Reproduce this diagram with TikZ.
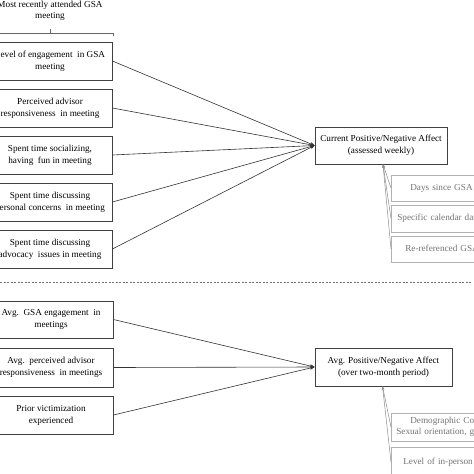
\documentclass[tikz,border=0pt]{standalone}
\usepackage{fontspec}
\setmainfont{Liberation Serif}
\usetikzlibrary{arrows.meta}
\begin{document}
\begin{tikzpicture}[x=1pt,y=-1pt,
  box/.style={draw=black!75, line width=0.8pt, align=center, inner sep=0pt, font=\fontsize{9.2}{12}\selectfont},
  gbox/.style={draw=black!30, line width=0.6pt, inner xsep=0pt, inner ysep=0pt, anchor=west, text=black!55, align=left, text width=220pt, font=\fontsize{9.2}{10.5}\selectfont},
  conn/.style={draw=black!80, line width=0.6pt, -{Stealth[length=4.5pt,width=3.5pt]}},
  gconn/.style={draw=black!45, line width=0.5pt, -{Stealth[length=3.5pt,width=2.5pt]}},
  brk/.style={draw=black!60, line width=0.5pt}]
\useasboundingbox (0,0) rectangle (474,474);
\clip (0,0) rectangle (474,474);

% title and bracket
\node[align=center, inner sep=0pt, font=\fontsize{9.2}{11}\selectfont] (title) at (50,11) {Most recently attended GSA\\meeting};
\coordinate (bl) at (-12,36);
\coordinate (br) at (113,36);
\coordinate (bm) at (50,29);
\draw[brk] (bl) -- (-12,33) -- (113,33) -- (br);
\draw[brk] (50,33) -- (bm);

% upper left boxes
\node[box, minimum width=124pt, minimum height=38pt] (a1) at (50,61) {Level of engagement\ \ in GSA\\meeting};
\node[box, minimum width=124pt, minimum height=38pt] (a2) at (50,108) {Perceived advisor\\responsiveness\ \ in meeting};
\node[box, minimum width=124pt, minimum height=38pt] (a3) at (50,155) {Spent time socializing,\\having\ \ fun in meeting};
\node[box, minimum width=124pt, minimum height=38pt] (a4) at (50,202) {Spent time discussing\\personal concerns\ \ in meeting};
\node[box, minimum width=124pt, minimum height=38pt] (a5) at (50,249) {Spent time discussing\\advocacy\ \ issues in meeting};

% current affect
\node[box, minimum width=132pt, minimum height=37pt] (cur) at (381,145.5) {Current Positive/Negative Affect\\(assessed weekly)};

\foreach \n in {a1,a2,a3,a4,a5} \draw[conn] (\n.east) -- (cur.west);

% gray covariate boxes (top)
\node[gbox, minimum height=26pt] (g1) at (391,188) {\hspace*{19pt}Days since GSA meeting};
\node[gbox, minimum height=27pt] (g2) at (391,218.5) {\hspace*{6pt}Specific calendar date};
\node[gbox, minimum height=26pt] (g3) at (391,249) {\hspace*{14pt}Re-referenced GSA meeting};
\foreach \n in {g1,g2,g3} \draw[gconn] (\n.west) -- ([xshift=2pt]cur.south);

% dashed separator
\draw[dashed, dash pattern=on 2pt off 1.5pt, draw=black!55, line width=0.5pt] (0,282) -- (472,282);

% lower left boxes
\node[box, minimum width=124pt, minimum height=37pt] (b1) at (51,319.5) {Avg.\ \ GSA engagement\ \ in\\meetings};
\node[box, minimum width=124pt, minimum height=39pt] (b2) at (51,367.5) {Avg.\ \ perceived advisor\\responsiveness\ \ in meetings};
\node[box, minimum width=124pt, minimum height=38pt] (b3) at (51,415) {Prior victimization\\experienced};

% avg affect
\node[box, minimum width=137pt, minimum height=38pt] (avg) at (383.5,367) {Avg. Positive/Negative Affect\\(over two-month period)};

\foreach \n in {b1,b2,b3} \draw[conn] (\n.east) -- (avg.west);

% gray covariate boxes (bottom)
\node[gbox, minimum height=28pt] (h1) at (391,427) {\hspace*{19pt}Demographic Covariates:\\\hspace*{5pt}Sexual orientation, gender identity};
\node[gbox, minimum height=30pt] (h2) at (391,462) {\hspace*{12pt}Level of in-person contact};
\foreach \n in {h1,h2} \draw[gconn] (\n.west) -- ([xshift=-1pt]avg.south);

\end{tikzpicture}
\end{document}
